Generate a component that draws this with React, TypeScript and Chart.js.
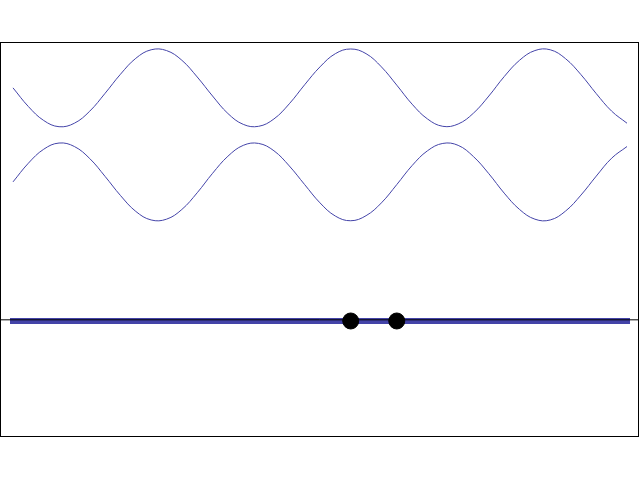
import { useEffect, useRef } from "react"
import { Chart, registerables } from "chart.js"

Chart.register(...registerables)

// sample positions along x
const xs = [
  0, 0.5, 1, 1.5, 2, 2.5, 3, 3.5, 4, 4.5, 5, 5.5, 6, 6.5, 7, 7.5, 8, 8.5, 9, 9.5, 10,
  10.5, 11, 11.5, 12, 12.5, 13, 13.5, 14, 14.5, 15, 15.5, 16, 16.5, 17, 17.5, 18, 18.5,
  19, 19.5, 20,
]

// upper wave
const upperWave = [
  6.0, 5.52, 5.16, 5.0, 5.09, 5.4, 5.86, 6.35, 6.76, 6.98, 6.96, 6.71, 6.28, 5.79, 5.34,
  5.06, 5.01, 5.2, 5.59, 6.08, 6.54, 6.88, 7.0, 6.88, 6.54, 6.07, 5.58, 5.2, 5.01, 5.07,
  5.35, 5.79, 6.29, 6.71, 6.96, 6.98, 6.75, 6.34, 5.85, 5.4, 5.09,
]

// lower wave
const lowerWave = [
  3.58, 4.06, 4.42, 4.58, 4.49, 4.18, 3.72, 3.23, 2.82, 2.6, 2.62, 2.87, 3.3, 3.8, 4.24,
  4.52, 4.57, 4.38, 3.99, 3.51, 3.04, 2.7, 2.58, 2.71, 3.04, 3.51, 4.0, 4.38, 4.57, 4.52,
  4.23, 3.79, 3.29, 2.87, 2.62, 2.6, 2.83, 3.24, 3.73, 4.19, 4.49,
]

// thick baseline, thin reference line and the two markers
const baseX = [0, 20]
const baseY = [0, 0]
const refX = [-0.391, 20.358]
const refY = [0.03, 0.03]
const markerX = [11, 12.5]
const markerY = [0, 0]

const X_MIN = -0.391
const X_MAX = 20.358
const Y_MIN = -2.96
const Y_MAX = 7.18

const blue = "#4343a8"

const toPoints = (x: number[], y: number[]) => x.map((v, i) => ({ x: v, y: y[i] }))

// frame around the plot area
const framePlugin = {
  id: "frame",
  beforeDatasetsDraw(chart: Chart) {
    const { ctx, chartArea } = chart
    ctx.save()
    ctx.strokeStyle = "#000"
    ctx.lineWidth = 1
    ctx.strokeRect(
      chartArea.left - 0.5,
      chartArea.top + 0.5,
      chartArea.right - chartArea.left + 1,
      chartArea.bottom - chartArea.top
    )
    ctx.restore()
  },
}

export default function App() {
  const chartRef = useRef<HTMLCanvasElement>(null)
  const chartInstance = useRef<Chart | null>(null)

  useEffect(() => {
    if (!chartRef.current) return
    if (chartInstance.current) chartInstance.current.destroy()
    const ctx = chartRef.current.getContext("2d")
    if (!ctx) return

    chartInstance.current = new Chart(ctx, {
      type: "line",
      data: {
        datasets: [
          {
            data: toPoints(markerX, markerY),
            showLine: false,
            pointRadius: 8,
            pointBackgroundColor: "#000",
            pointBorderColor: "#000",
            order: 0,
          },
          {
            data: toPoints(refX, refY),
            borderColor: "#000",
            borderWidth: 1,
            pointRadius: 0,
            order: 1,
          },
          {
            data: toPoints(baseX, baseY),
            borderColor: blue,
            borderWidth: 6,
            borderCapStyle: "square",
            pointRadius: 0,
            order: 2,
          },
          {
            data: toPoints(xs, upperWave),
            borderColor: blue,
            borderWidth: 1,
            pointRadius: 0,
            tension: 0.4,
            order: 3,
          },
          {
            data: toPoints(xs, lowerWave),
            borderColor: blue,
            borderWidth: 1,
            pointRadius: 0,
            tension: 0.4,
            order: 3,
          },
        ],
      },
      options: {
        responsive: false,
        animation: false,
        devicePixelRatio: 1,
        layout: {
          autoPadding: false,
          padding: { left: 1, right: 2, top: 42, bottom: 44 },
        },
        plugins: {
          legend: { display: false },
          tooltip: { enabled: false },
        },
        scales: {
          x: { type: "linear", min: X_MIN, max: X_MAX, display: false },
          y: { type: "linear", min: Y_MIN, max: Y_MAX, display: false },
        },
      },
      plugins: [framePlugin],
    })

    return () => {
      if (chartInstance.current) {
        chartInstance.current.destroy()
        chartInstance.current = null
      }
    }
  }, [])

  return (
    <div style={{ position: "fixed", left: 0, top: 0, width: 640, height: 480, background: "#fff" }}>
      <canvas ref={chartRef} width={640} height={480}></canvas>
    </div>
  )
}
